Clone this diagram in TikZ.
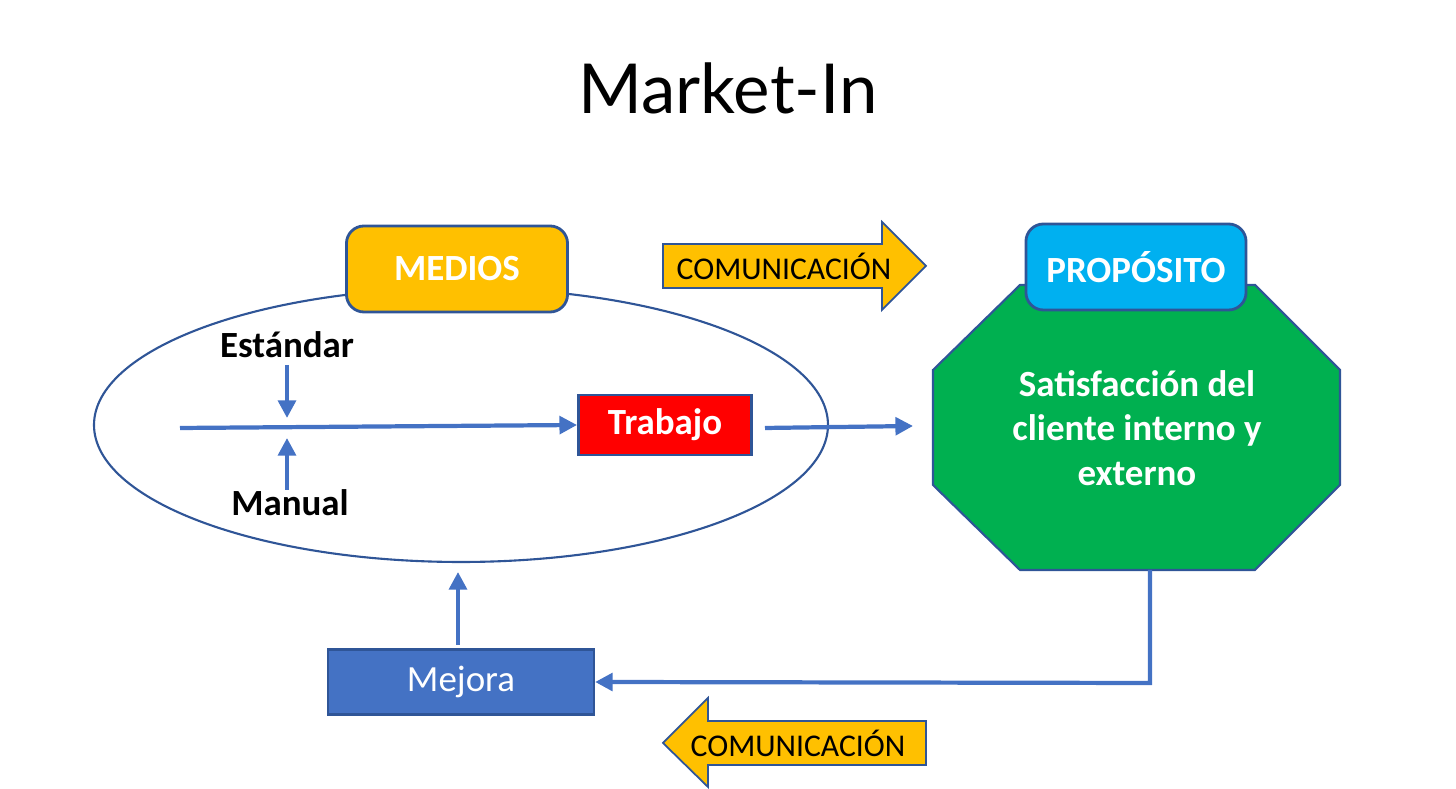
\documentclass[tikz,border=0pt]{standalone}
\usepackage{fontspec}
\setmainfont{Carlito}
\newfontfamily\titlefont{Lato}
\usetikzlibrary{arrows.meta}
\definecolor{dblue}{HTML}{2F5597}
\definecolor{mblue}{HTML}{4472C4}
\definecolor{gold}{HTML}{FFC000}
\definecolor{grn}{HTML}{00B050}
\definecolor{cyan2}{HTML}{00B0F0}
\begin{document}
\begin{tikzpicture}[x=0.01cm,y=-0.01cm,
  box/.style={draw=dblue,line width=0.8pt,text=white,font=\bfseries\fontsize{10.5}{13}\selectfont,inner sep=0pt},
  arr/.style={draw=mblue,line width=1.2pt,-{Triangle[length=5pt,width=5pt]}},
  lbl/.style={font=\bfseries\fontsize{10.5}{13}\selectfont},
  shaft/.style={fill=gold,draw=dblue,line width=0.5pt}]
\useasboundingbox (0,0) rectangle (1456,789);
\node[font=\titlefont\fontsize{19.6}{24}\selectfont] (title) at (728,88) {Market-In};
\draw[dblue,line width=0.6pt] (461,425) ellipse [x radius=367,y radius=137];
\node[box,fill=gold,rounded corners=5pt,minimum width=2.21cm,minimum height=0.86cm] (medios) at (457,269) {MEDIOS};
\node[lbl] (est) at (287,345) {Estándar};
\node[lbl] (man) at (290,503) {Manual};
\coordinate (s) at (180,428);
\coordinate (e1) at (287,365);
\coordinate (e2) at (287,418);
\coordinate (u1) at (287,490);
\coordinate (u2) at (287,438);
\node[box,fill=red,minimum width=1.73cm,minimum height=0.6cm] (trab) at (665,425) {\raisebox{1pt}{Trabajo}};
\draw[arr] (s) -- (trab.west);
\draw[arr] (e1) -- (e2);
\draw[arr] (u1) -- (u2);
\draw[shaft] (663,244) -- (882,244) -- (882,222) -- (926,266) -- (882,310) -- (882,288) -- (663,288) -- cycle;
\node[font=\fontsize{9}{11}\selectfont] (c1) at (784,266) {COMUNICACIÓN};
\draw[shaft] (926,721) -- (708,721) -- (708,698) -- (663,743) -- (708,787) -- (708,765) -- (926,765) -- cycle;
\node[font=\fontsize{9}{11}\selectfont] (c2) at (798,743) {COMUNICACIÓN};
\draw[draw=dblue,fill=grn,line width=0.6pt] (1020,285) -- (1255,285) -- (1340,370) -- (1340,485) -- (1255,570) -- (1020,570) -- (933,485) -- (933,370) -- cycle;
\node[box,fill=cyan2,rounded corners=5pt,minimum width=2.2cm,minimum height=0.86cm] (prop) at (1136,267) {PROPÓSITO};
\node[text=white,font=\bfseries\fontsize{10.5}{12.6}\selectfont,align=center] (sat) at (1137,428) {Satisfacción del\\cliente interno y\\externo};
\coordinate (t1) at (765,428);
\coordinate (t2) at (913,426);
\draw[arr] (t1) -- (t2);
\node[fill=mblue,draw=dblue,line width=0.6pt,text=white,font=\fontsize{10.5}{13}\selectfont,minimum width=2.66cm,minimum height=0.65cm] (mej) at (461,682) {Mejora};
\coordinate (o1) at (1150,570);
\coordinate (o2) at (1150,683);
\draw[arr] (o1) -- (o2) -- (mej.east);
\coordinate (m1) at (458,645);
\coordinate (m2) at (458,572);
\draw[arr] (m1) -- (m2);
\end{tikzpicture}
\end{document}
